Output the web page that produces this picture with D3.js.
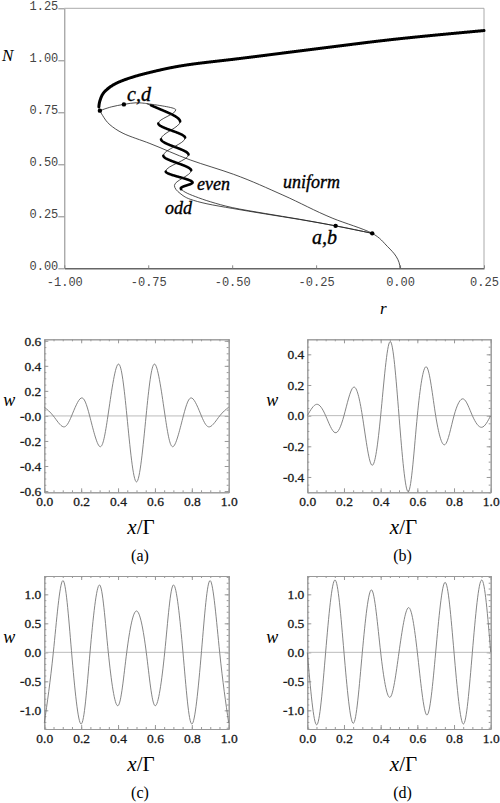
<!DOCTYPE html>
<html>
<head>
<meta charset="utf-8">
<script src="https://cdn.jsdelivr.net/npm/d3@7"></script>
<style>
  body { margin: 0; background: #fff; }
  svg { display: block; }
  svg text.serif { font-family: 'Liberation Serif', 'DejaVu Serif', serif; }
  svg text.mono { font-family: 'Liberation Mono', 'DejaVu Sans Mono', monospace; }
</style>
</head>
<body>
<svg id="chart" width="500" height="803"></svg>
<script>
// -------------------------------------------------------------------------
// Data: bifurcation diagram N(r)

const rTicks = [-1.0, -0.75, -0.5, -0.25, 0.0, 0.25];
const nTicks = [0.0, 0.25, 0.5, 0.75, 1.0, 1.25];

// uniform state, ordered from the top end down to the origin (fold near r=-0.9)
const uniformR = [0.25, 0.0, -0.245, -0.496, -0.621, -0.747, -0.835, -0.875, -0.893, -0.897,
  -0.894, -0.886, -0.864, -0.825, -0.745, -0.625, -0.496, -0.349, -0.200, -0.083,
  -0.037, -0.012, -0.003, 0.0];
const uniformN = [1.143, 1.104, 1.056, 1.005, 0.981, 0.941, 0.897, 0.857, 0.810, 0.772,
  0.758, 0.735, 0.690, 0.649, 0.600, 0.521, 0.452, 0.352, 0.240, 0.168,
  0.104, 0.058, 0.028, 0.0];
const uniformThick = [[0.776, 1.25]];

// periodic branch between the uniform fold and the top of the snakes (through c,d)
const periodicR = [-0.894, -0.860, -0.8225, -0.785, -0.755];
const periodicN = [0.758, 0.776, 0.788, 0.796, 0.792];

// even localized states, top of snake down to the bifurcation point
const evenR = [-0.755, -0.728, -0.655, -0.712, -0.630, -0.698, -0.618, -0.653, -0.640,
  -0.610, -0.565, -0.500, -0.400, -0.300, -0.192, -0.083];
const evenN = [0.792, 0.774, 0.705, 0.621, 0.546, 0.466, 0.412, 0.385, 0.366,
  0.345, 0.320, 0.292, 0.263, 0.236, 0.204, 0.168];
const evenThick = [[0.380, 0.466], [0.546, 0.621], [0.705, 0.784]];

// odd localized states
const oddR = [-0.755, -0.668, -0.720, -0.640, -0.705, -0.622, -0.672, -0.655, -0.625,
  -0.575, -0.500, -0.400, -0.300, -0.192, -0.083];
const oddN = [0.792, 0.762, 0.697, 0.627, 0.542, 0.470, 0.398, 0.360, 0.332,
  0.310, 0.288, 0.261, 0.235, 0.204, 0.168];
const oddThick = [[0.470, 0.542], [0.627, 0.697]];

// marked solutions
const dotR = [-0.894, -0.8225, -0.192, -0.083];
const dotN = [0.758, 0.788, 0.204, 0.168];

// -------------------------------------------------------------------------
// Data: profiles w(x/Gamma)

const profileTicksX = [0, 0.2, 0.4, 0.6, 0.8, 1.0];
const profileTickLabelsX = ['0.0', '0.2', '0.4', '0.6', '0.8', '1.0'];

const aTicksY = [-0.6, -0.4, -0.2, 0, 0.2, 0.4, 0.6];
const aTickLabelsY = ['-0.6', '-0.4', '-0.2', '-0.0', '0.2', '0.4', '0.6'];
const aX = [0, 0.049, 0.103, 0.148, 0.2, 0.246, 0.3, 0.345, 0.4, 0.448, 0.5,
  0.552, 0.6, 0.655, 0.7, 0.754, 0.8, 0.852, 0.897, 0.951, 1.0];
const aW = [0.07, 0, -0.087, 0, 0.143, 0, -0.244, 0, 0.413, 0, -0.527,
  0, 0.413, 0, -0.244, 0, 0.143, 0, -0.087, 0, 0.07];

const bTicksY = [-0.4, -0.2, 0, 0.2, 0.4];
const bTickLabelsY = ['-0.4', '-0.2', '0.0', '0.2', '0.4'];
const bX = [0, 0.051, 0.1, 0.151, 0.2, 0.251, 0.3, 0.351, 0.4, 0.451, 0.5,
  0.551, 0.6, 0.651, 0.7, 0.751, 0.8, 0.851, 0.9, 0.951, 1.0];
const bW = [0, 0.074, 0, -0.111, 0, 0.185, 0, -0.322, 0, 0.483, 0,
  -0.496, 0, 0.317, 0, -0.189, 0, 0.109, 0, -0.076, 0];

const cdTicksY = [-1.0, -0.5, 0, 0.5, 1.0];
const cdTickLabelsY = ['-1.0', '-0.5', '0.0', '0.5', '1.0'];
const cX = [0, 0.049, 0.1, 0.148, 0.2, 0.248, 0.3, 0.347, 0.4, 0.447, 0.5,
  0.553, 0.6, 0.653, 0.7, 0.752, 0.8, 0.852, 0.9, 0.951, 1.0];
const cW = [-1.22, 0, 1.236, 0, -1.236, 0, 1.161, 0, -0.92, 0, 0.713,
  0, -0.92, 0, 1.161, 0, -1.236, 0, 1.236, 0, -1.22];
const dX = [0, 0.051, 0.1, 0.151, 0.2, 0.251, 0.3, 0.351, 0.4, 0.451, 0.5,
  0.551, 0.6, 0.651, 0.7, 0.751, 0.8, 0.851, 0.9, 0.951, 1.0];
const dW = [0, -1.25, 0, 1.247, 0, -1.224, 0, 1.075, 0, -0.776, 0,
  0.77, 0, -1.08, 0, 1.207, 0, -1.236, 0, 1.247, 0];

// -------------------------------------------------------------------------
// Helpers

const svg = d3.select('#chart');
const zip = (xs, ys) => xs.map((v, i) => [v, ys[i]]);

// -------------------------------------------------------------------------
// Bifurcation diagram

const box = { left: 64.3, right: 484, top: 8.3, bottom: 268.3 };
const x = d3.scaleLinear().domain([-1, 0.25]).range([box.left, box.right]);
const y = d3.scaleLinear().domain([0, 1.25]).range([box.bottom, box.top]);
const diagram = svg.append('g').attr('class', 'diagram');

diagram.append('path')
  .attr('d', `M${box.left},${box.top}H${box.right}V${box.bottom}`)
  .attr('fill', 'none')
  .attr('stroke', '#aaa');

diagram.append('g')
  .attr('transform', `translate(${box.left},0)`)
  .call(d3.axisLeft(y).tickValues(nTicks).tickSize(6).tickSizeOuter(0)
    .tickFormat(d => d.toFixed(2)))
  .call(g => {
    g.attr('font-family', null);
    g.select('.domain').attr('stroke', '#888');
    g.selectAll('.tick line').attr('stroke', '#888');
    g.selectAll('text')
      .attr('class', 'mono')
      .attr('x', -6).attr('y', 1.5).attr('dy', null)
      .attr('font-size', 12)
      .attr('fill', '#444');
  });

diagram.append('g')
  .attr('transform', `translate(0,${box.bottom})`)
  .call(d3.axisBottom(x).tickValues(rTicks).tickSize(-3).tickSizeOuter(0)
    .tickFormat(d => d.toFixed(2)))
  .call(g => {
    g.attr('font-family', null);
    g.select('.domain').attr('stroke', '#666').attr('stroke-width', 1.6);
    g.selectAll('.tick line').attr('stroke', '#888');
    g.selectAll('text')
      .attr('class', 'mono')
      .attr('y', 18).attr('dy', null)
      .attr('font-size', 12)
      .attr('fill', '#444');
  });

const branchLine = d3.line()
  .x(d => x(d[0]))
  .y(d => y(d[1]))
  .curve(d3.curveMonotoneY);

/**
 * Draw a branch thin, then retrace the stable parts (N ranges) thick.
 */
function drawBranch(rs, ns, thick, rMin, width) {
  const path = diagram.append('path')
    .attr('d', branchLine(zip(rs, ns)))
    .attr('fill', 'none')
    .attr('stroke', '#222')
    .attr('stroke-width', 0.8);
  if (!thick) return;
  const node = path.node();
  const total = node.getTotalLength();
  const runs = [];
  let run = null;
  for (let s = 0; s <= total; s += 0.4) {
    const p = node.getPointAtLength(s);
    const n = y.invert(p.y);
    const on = x.invert(p.x) > rMin && thick.some(([lo, hi]) => n >= lo && n <= hi);
    if (on) {
      if (!run) { run = []; runs.push(run); }
      run.push([p.x, p.y]);
    } else {
      run = null;
    }
  }
  diagram.selectAll(null)
    .data(runs)
    .enter()
    .append('path')
    .attr('d', d3.line())
    .attr('fill', 'none')
    .attr('stroke', '#000')
    .attr('stroke-width', width)
    .attr('stroke-linecap', 'round');
}

drawBranch(uniformR, uniformN, uniformThick, -1, 3);
diagram.append('path')
  .attr('d', d3.line().x(d => x(d[0])).y(d => y(d[1])).curve(d3.curveCatmullRom)(zip(periodicR, periodicN)))
  .attr('fill', 'none')
  .attr('stroke', '#222')
  .attr('stroke-width', 0.8);
drawBranch(evenR, evenN, evenThick, -0.745, 2.6);
drawBranch(oddR, oddN, oddThick, -0.745, 2.6);

diagram.selectAll('.dot')
  .data(zip(dotR, dotN))
  .enter()
  .append('circle')
  .attr('class', 'dot')
  .attr('cx', d => x(d[0]))
  .attr('cy', d => y(d[1]))
  .attr('r', 2.2)
  .attr('fill', '#000');

const annotations = [
  { text: 'c,d', r: -0.813, n: 0.804, size: 20 },
  { text: 'a,b', r: -0.262, n: 0.117, size: 20 },
  { text: 'even', r: -0.605, n: 0.376, size: 18 },
  { text: 'odd', r: -0.700, n: 0.261, size: 18 },
  { text: 'uniform', r: -0.349, n: 0.384, size: 18 }
];
diagram.selectAll('.note')
  .data(annotations)
  .enter()
  .append('text')
  .attr('class', 'serif')
  .attr('x', d => x(d.r))
  .attr('y', d => y(d.n))
  .attr('font-style', 'italic')
  .attr('font-size', d => d.size)
  .attr('stroke', '#000')
  .attr('stroke-width', 0.35)
  .text(d => d.text);

diagram.append('text')
  .attr('class', 'serif')
  .attr('x', 2).attr('y', 61)
  .attr('font-style', 'italic').attr('font-size', 17)
  .text('N');
diagram.append('text')
  .attr('class', 'serif')
  .attr('x', 380).attr('y', 314)
  .attr('font-style', 'italic').attr('font-size', 17)
  .text('r');

// -------------------------------------------------------------------------
// Profile panels

const panels = [
  { tag: '(a)', xs: aX, ws: aW, ticks: aTicksY, labels: aTickLabelsY, minor: 0.05,
    domain: [-0.61, 0.612], left: 44.3, right: 228.7, top: 339.3, bottom: 492.3 },
  { tag: '(b)', xs: bX, ws: bW, ticks: bTicksY, labels: bTickLabelsY, minor: 0.05,
    domain: [-0.5, 0.498], left: 307.3, right: 490.7, top: 339.3, bottom: 492.3 },
  { tag: '(c)', xs: cX, ws: cW, ticks: cdTicksY, labels: cdTickLabelsY, minor: 0.1,
    domain: [-1.322, 1.316], left: 44.3, right: 228.7, top: 576, bottom: 729 },
  { tag: '(d)', xs: dX, ws: dW, ticks: cdTicksY, labels: cdTickLabelsY, minor: 0.1,
    domain: [-1.322, 1.316], left: 307.3, right: 490.7, top: 576, bottom: 729 }
];

function styleTicks(g) {
  g.attr('font-family', null);
  g.select('.domain').attr('stroke', '#999');
  g.selectAll('.tick line').attr('stroke', '#999');
}

function drawPanel(p) {
  const g = svg.append('g').attr('class', 'panel');
  const px = d3.scaleLinear().domain([0, 1]).range([p.left, p.right]);
  const py = d3.scaleLinear().domain(p.domain).range([p.bottom, p.top]);
  const minorY = d3.range(Math.ceil(p.domain[0] / p.minor) * p.minor, p.domain[1], p.minor)
    .map(v => +v.toFixed(3));
  const minorX = d3.range(0, 1.0001, 0.05).map(v => +v.toFixed(3));
  const labelOf = d => p.labels[p.ticks.indexOf(d)];

  // minor ticks on all four sides
  g.append('g').attr('transform', `translate(${p.left},0)`)
    .call(d3.axisLeft(py).tickValues(minorY).tickSize(-2).tickSizeOuter(0).tickFormat(''))
    .call(styleTicks);
  g.append('g').attr('transform', `translate(${p.right},0)`)
    .call(d3.axisRight(py).tickValues(minorY).tickSize(-2).tickSizeOuter(0).tickFormat(''))
    .call(styleTicks);
  g.append('g').attr('transform', `translate(0,${p.bottom})`)
    .call(d3.axisBottom(px).tickValues(minorX).tickSize(-2).tickSizeOuter(0).tickFormat(''))
    .call(styleTicks);
  g.append('g').attr('transform', `translate(0,${p.top})`)
    .call(d3.axisTop(px).tickValues(minorX).tickSize(-2).tickSizeOuter(0).tickFormat(''))
    .call(styleTicks);

  // major ticks, labelled left and bottom
  g.append('g').attr('transform', `translate(${p.left},0)`)
    .call(d3.axisLeft(py).tickValues(p.ticks).tickSize(-4).tickSizeOuter(0)
      .tickPadding(3).tickFormat(labelOf))
    .call(styleTicks);
  g.append('g').attr('transform', `translate(${p.right},0)`)
    .call(d3.axisRight(py).tickValues(p.ticks).tickSize(-4).tickSizeOuter(0).tickFormat(''))
    .call(styleTicks);
  g.append('g').attr('transform', `translate(0,${p.bottom})`)
    .call(d3.axisBottom(px).tickValues(profileTicksX).tickSize(-4).tickSizeOuter(0)
      .tickFormat((d, i) => profileTickLabelsX[i]))
    .call(styleTicks)
    .call(a => a.selectAll('text').attr('y', 13.7).attr('dy', null));
  g.append('g').attr('transform', `translate(0,${p.top})`)
    .call(d3.axisTop(px).tickValues(profileTicksX).tickSize(-4).tickSizeOuter(0).tickFormat(''))
    .call(styleTicks);

  g.selectAll('text')
    .attr('class', 'serif')
    .attr('font-size', 13.5)
    .attr('fill', '#1a1a1a')
    .attr('stroke', '#1a1a1a')
    .attr('stroke-width', 0.3);

  // zero line and profile
  g.append('line')
    .attr('x1', p.left).attr('x2', p.right)
    .attr('y1', py(0)).attr('y2', py(0))
    .attr('stroke', '#bbb');
  g.append('path')
    .attr('d', d3.line().x(d => px(d[0])).y(d => py(d[1])).curve(d3.curveNatural)(zip(p.xs, p.ws)))
    .attr('fill', 'none')
    .attr('stroke', '#777')
    .attr('stroke-width', 0.9);

  const mid = (p.left + p.right) / 2;
  g.append('text')
    .attr('class', 'serif')
    .attr('x', p.left - 41).attr('y', (p.top + p.bottom) / 2 - 10)
    .attr('font-style', 'italic').attr('font-size', 18)
    .text('w');
  const xl = g.append('text')
    .attr('class', 'serif')
    .attr('x', mid + 4.5).attr('y', p.bottom + 42)
    .attr('text-anchor', 'middle')
    .attr('font-size', 21);
  xl.append('tspan').attr('font-style', 'italic').text('x');
  xl.append('tspan').text('/Γ');
  g.append('text')
    .attr('class', 'serif')
    .attr('x', mid + 3.5).attr('y', p.bottom + 69)
    .attr('text-anchor', 'middle')
    .attr('font-size', 16)
    .text(p.tag);
}

panels.forEach(drawPanel);
</script>
</body>
</html>
